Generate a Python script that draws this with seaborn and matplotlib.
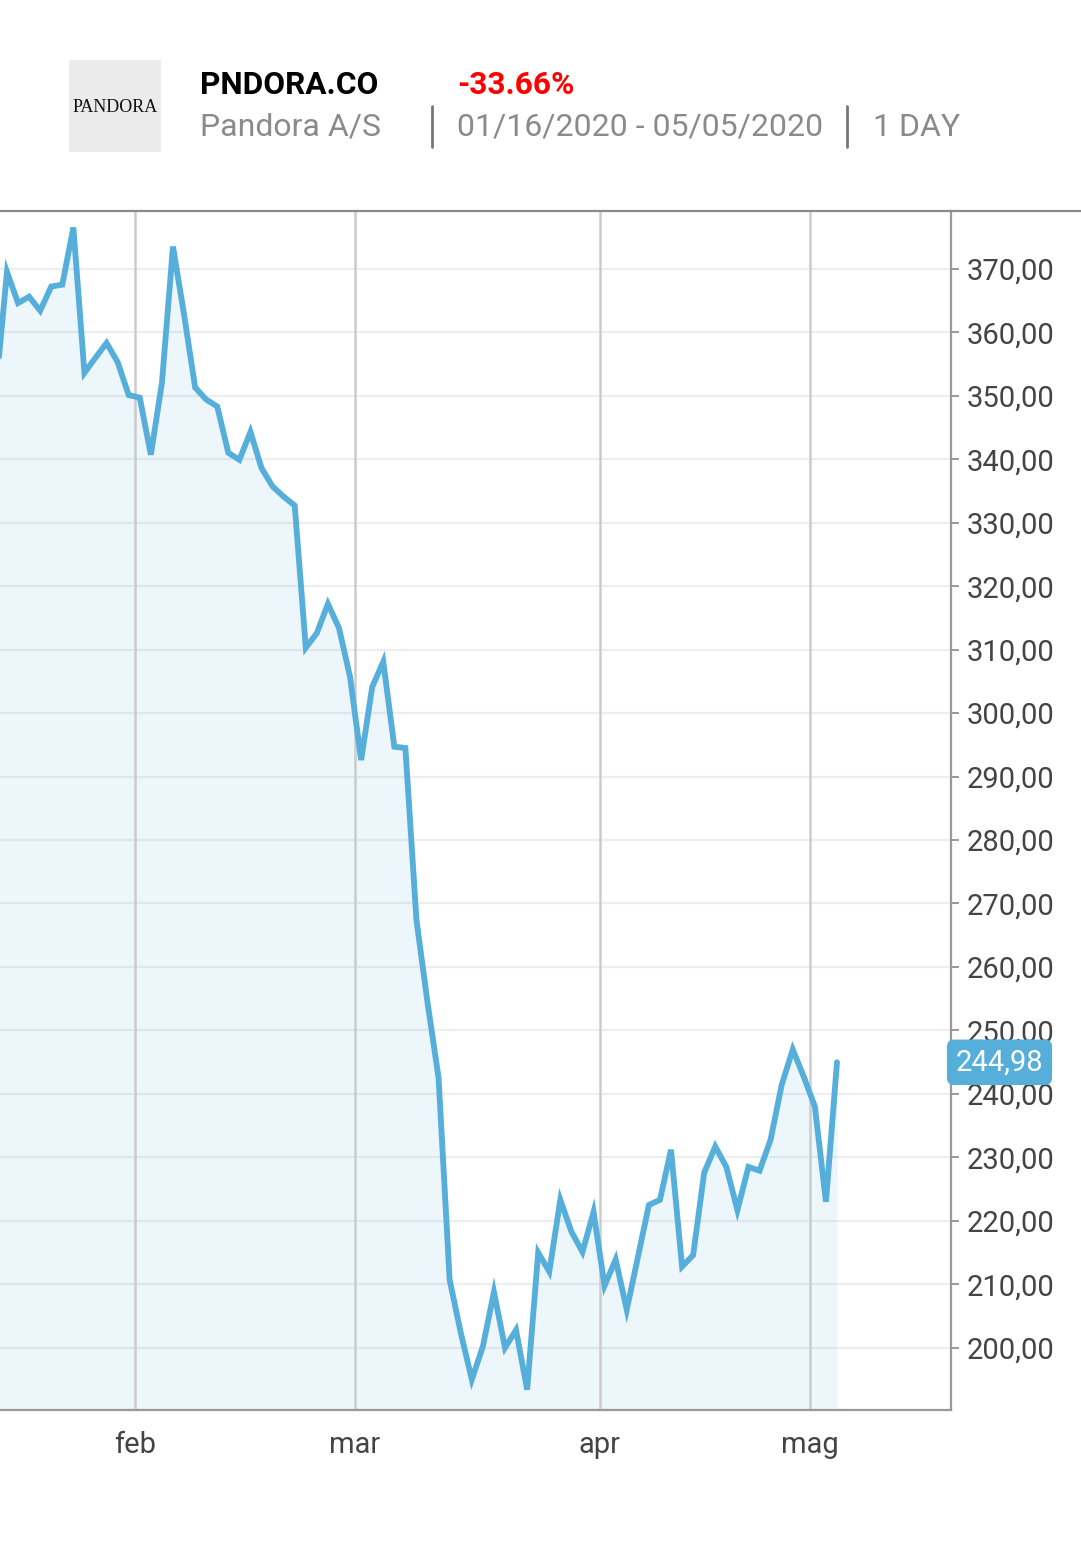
import numpy as np
import pandas as pd
import matplotlib
matplotlib.use("Agg")
import matplotlib.pyplot as plt
import matplotlib.transforms as mtransforms
from matplotlib.lines import Line2D
from matplotlib.patches import Rectangle
import seaborn as sns

# daily closes, first value is the lead-in day cut off at the left edge
prices = [351.0, 369.5, 364.6, 365.6, 363.4, 367.2, 367.5, 376.5, 353.6, 356.0,
          358.3, 355.3, 350.1, 349.7, 340.7, 352.0, 373.5, 362.8, 351.3, 349.4,
          348.3, 341.0, 339.9, 344.3, 338.6, 335.7, 334.1, 332.7, 310.3, 312.6,
          317.2, 313.4, 305.7, 292.6, 304.1, 308.1, 294.7, 294.5, 267.4, 254.4,
          242.5, 210.7, 202.4, 195.0, 200.2, 208.8, 200.0, 202.8, 193.4, 215.0,
          212.0, 223.3, 218.3, 215.1, 221.4, 209.8, 213.9, 206.0, 214.2, 222.5,
          223.3, 231.2, 212.8, 214.6, 227.6, 231.7, 228.5, 221.7, 228.5, 227.9,
          232.8, 241.4, 247.0, 242.7, 238.0, 223.0, 244.98]
month_labels = ["feb", "mar", "apr", "mag"]
month_pos = [11.57, 31.44, 53.58, 72.56]
y_ticks = [200, 210, 220, 230, 240, 250, 260, 270, 280, 290, 300, 310, 320, 330, 340, 350, 360, 370]

df = pd.DataFrame({"day": np.arange(len(prices)) - 1, "close": prices})

line_col = "#56aedb"
W, H = 1081, 1567

sns.set_style("white")
plt.rcParams["font.family"] = ["Roboto", "DejaVu Sans"]

fig = plt.figure(figsize=(W / 100, H / 100), dpi=100)
ax = fig.add_axes([0, 1 - 1410 / H, 951 / W, (1410 - 211) / H])

ax.fill_between(df["day"], df["close"], 150, color=line_col, alpha=0.11, lw=0, zorder=1)
sns.lineplot(data=df, x="day", y="close", ax=ax, color=line_col, lw=4.2, zorder=3)
ax.lines[-1].set_solid_joinstyle("miter")

ax.set_xlim(-0.63, 85.3)
ax.set_ylim(190.2, 379.1)

# grid
for v in y_ticks:
    ax.axhline(v, color="#eeeeee", lw=1.6, zorder=0)
for p in month_pos:
    ax.axvline(p, color="#cccccc", lw=1.8, zorder=2)

ax.yaxis.tick_right()
ax.set_yticks(y_ticks)
ax.set_yticklabels([f"{v},00" for v in y_ticks])
ax.set_xticks(month_pos)
ax.set_xticklabels(month_labels)
ax.tick_params(axis="y", length=6, width=1.4, color="#999999", pad=5,
               labelsize=21, labelcolor="#444444")
ax.tick_params(axis="x", length=7, width=1.4, color="#bbbbbb", pad=8,
               labelsize=21, labelcolor="#444444")
ax.set_xlabel("")
ax.set_ylabel("")

for s in ["left", "top"]:
    ax.spines[s].set_visible(False)
for s in ["right", "bottom"]:
    ax.spines[s].set_color("#999999")
    ax.spines[s].set_linewidth(1.6)

# top border across the whole width
fig.add_artist(Line2D([0, 1], [1 - 211 / H, 1 - 211 / H], color="#8a8a8a", lw=1.6))

# last value badge
trans = mtransforms.blended_transform_factory(ax.transAxes, ax.transData)
ax.text(1.051, prices[-1], "244,98", transform=trans, ha="center", va="center",
        fontsize=21, color="white", clip_on=False, zorder=10,
        bbox=dict(boxstyle="round,pad=0.3,rounding_size=0.25", fc=line_col, ec="none"))

# header
fig.add_artist(Rectangle((69 / W, 1 - 152 / H), 92 / W, 92 / H,
                         transform=fig.transFigure, color="#ebebeb", lw=0))
fig.text(115 / W, 1 - 108 / H, "PANDORA", ha="center", va="center",
         fontsize=13, family="Liberation Serif", color="#111111")
fig.text(200 / W, 1 - 94 / H, "PNDORA.CO", fontsize=22.8, fontweight="bold",
         color="#000000", va="baseline")
fig.text(457 / W, 1 - 94 / H, "-33.66%", fontsize=22.8, fontweight="bold",
         color="#ff0000", va="baseline")
fig.text(200 / W, 1 - 136 / H, "Pandora A/S", fontsize=23, color="#8a8a8a", va="baseline")
fig.text(457 / W, 1 - 136 / H, "01/16/2020 - 05/05/2020", fontsize=23,
         color="#8a8a8a", va="baseline")
fig.text(873 / W, 1 - 136 / H, "1 DAY", fontsize=23, color="#8a8a8a", va="baseline")
for sx in [432, 847]:
    fig.add_artist(Line2D([sx / W, sx / W], [1 - 106 / H, 1 - 147 / H],
                          color="#777777", lw=2))

fig.savefig("out.png", dpi=100, facecolor="white")
